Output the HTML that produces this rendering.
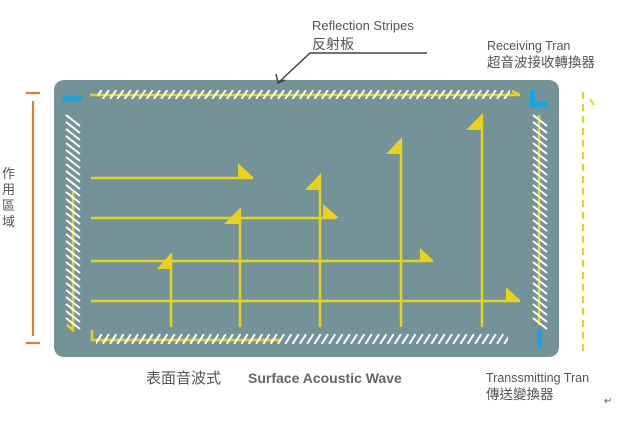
<!DOCTYPE html>
<html><head><meta charset="utf-8"><style>
body{margin:0;background:#fff;}
svg{display:block;}
text{font-family:"Liberation Sans","Noto Sans CJK TC",sans-serif;fill:#555;}
</style></head><body>
<svg width="620" height="421" viewBox="0 0 620 421">
<defs>
<pattern id="ht" patternUnits="userSpaceOnUse" x="0" y="90" width="7.3" height="9"><line x1="0.5" y1="9" x2="6.8" y2="0" stroke="#fff" stroke-width="2"/></pattern>
<pattern id="hb" patternUnits="userSpaceOnUse" x="0" y="334" width="7.3" height="10"><line x1="0.5" y1="10" x2="6.8" y2="0" stroke="#fff" stroke-width="2"/></pattern>
</defs>
<rect x="54" y="80" width="505" height="277" rx="10" fill="#739399"/>
<g stroke="#e8d21c" stroke-width="2.5" fill="none">
<path d="M90 95 H520 M512 91 L520 95"/>
<path d="M73 190 V330 L67 325"/>
<path d="M92 330 V340 H280"/>
<path d="M539 115 V325"/>
</g>
<rect x="98" y="90" width="412" height="9" fill="url(#ht)"/>
<rect x="96" y="334" width="412" height="10" fill="url(#hb)"/>
<g stroke="#fff" stroke-width="2" fill="none">
<path id="sh" d="M66 115l14 11m-14 -4l14 11m-14 -4l14 11m-14 -4l14 11m-14 -4l14 11m-14 -4l14 11m-14 -4l14 11m-14 -4l14 11m-14 -4l14 11m-14 -4l14 11m-14 -4l14 11m-14 -4l14 11m-14 -4l14 11m-14 -4l14 11m-14 -4l14 11m-14 -4l14 11m-14 -4l14 11m-14 -4l14 11m-14 -4l14 11m-14 -4l14 11m-14 -4l14 11m-14 -4l14 11m-14 -4l14 11m-14 -4l14 11m-14 -4l14 11m-14 -4l14 11m-14 -4l14 11m-14 -4l14 11m-14 -4l14 11m-14 -4l14 11"/>
<path d="M533 115l14 11m-14 -4l14 11m-14 -4l14 11m-14 -4l14 11m-14 -4l14 11m-14 -4l14 11m-14 -4l14 11m-14 -4l14 11m-14 -4l14 11m-14 -4l14 11m-14 -4l14 11m-14 -4l14 11m-14 -4l14 11m-14 -4l14 11m-14 -4l14 11m-14 -4l14 11m-14 -4l14 11m-14 -4l14 11m-14 -4l14 11m-14 -4l14 11m-14 -4l14 11m-14 -4l14 11m-14 -4l14 11m-14 -4l14 11m-14 -4l14 11m-14 -4l14 11m-14 -4l14 11m-14 -4l14 11m-14 -4l14 11m-14 -4l14 11"/>
</g>
<rect x="63" y="96" width="19" height="5" fill="#1aa3dc"/>
<path d="M530 90 H535 V102 H548 V107 H530 Z" fill="#1aa3dc"/>
<rect x="537" y="329" width="5" height="19" fill="#1aa3dc"/>
<g stroke="#e8d21c" stroke-width="2.5" fill="none">
<path d="M91 178 H253 M91 218 H336 M91 261 H433 M91 301 H520"/>
<path d="M171 327 V254 M240 327 V210 M320 327 V175 M401 327 V140 M482 327 V115"/>
</g>
<g fill="#e8d21c">
<path d="M238 163 L254 178 H238 Z"/>
<path d="M323 204 L339 218 H323 Z"/>
<path d="M420 248 L434 261 H420 Z"/>
<path d="M506 287 L521 301 H506 Z"/>
<path d="M172 252 V269 H157 Z"/>
<path d="M241 207 V224 H224 Z"/>
<path d="M321 173 V190 H305 Z"/>
<path d="M402 137 V154 H386 Z"/>
<path d="M483 113 V130 H466 Z"/>
</g>
<line x1="583" y1="92" x2="583" y2="356" stroke="#e8d21c" stroke-width="2" stroke-dasharray="7,5"/>
<line x1="590" y1="99" x2="594" y2="105" stroke="#e8d21c" stroke-width="2"/>
<g stroke="#e07a3a" stroke-width="2.2">
<line x1="26" y1="93" x2="40" y2="93"/><line x1="26" y1="343" x2="40" y2="343"/>
<line x1="33" y1="101" x2="33" y2="336"/>
</g>
<polyline points="427,53 310,53 278,83" fill="none" stroke="#444" stroke-width="1.5"/>
<path d="M276 74 L278 83 L285 80" fill="none" stroke="#444" stroke-width="1.5"/>
<text x="312" y="30" font-size="13">Reflection Stripes</text>
<text x="312" y="49" font-size="14">反射板</text>
<text x="487" y="50" font-size="12.5">Receiving Tran</text>
<text x="487" y="67" font-size="13.5">超音波接收轉換器</text>
<text x="486" y="382" font-size="12.5">Transsmitting Tran</text>
<text x="486" y="399" font-size="13.5">傳送變換器</text>
<text x="146" y="383" font-size="15" style="fill:#555">表面音波式</text>
<text x="248" y="383" font-size="14" font-weight="bold" style="fill:#666">Surface Acoustic Wave</text>
<g font-size="13"><text x="2" y="178">作</text><text x="2" y="194">用</text><text x="2" y="210">區</text><text x="2" y="226">域</text></g>
<text x="604" y="404" font-size="10" fill="#777">↵</text>
</svg>
</body></html>
